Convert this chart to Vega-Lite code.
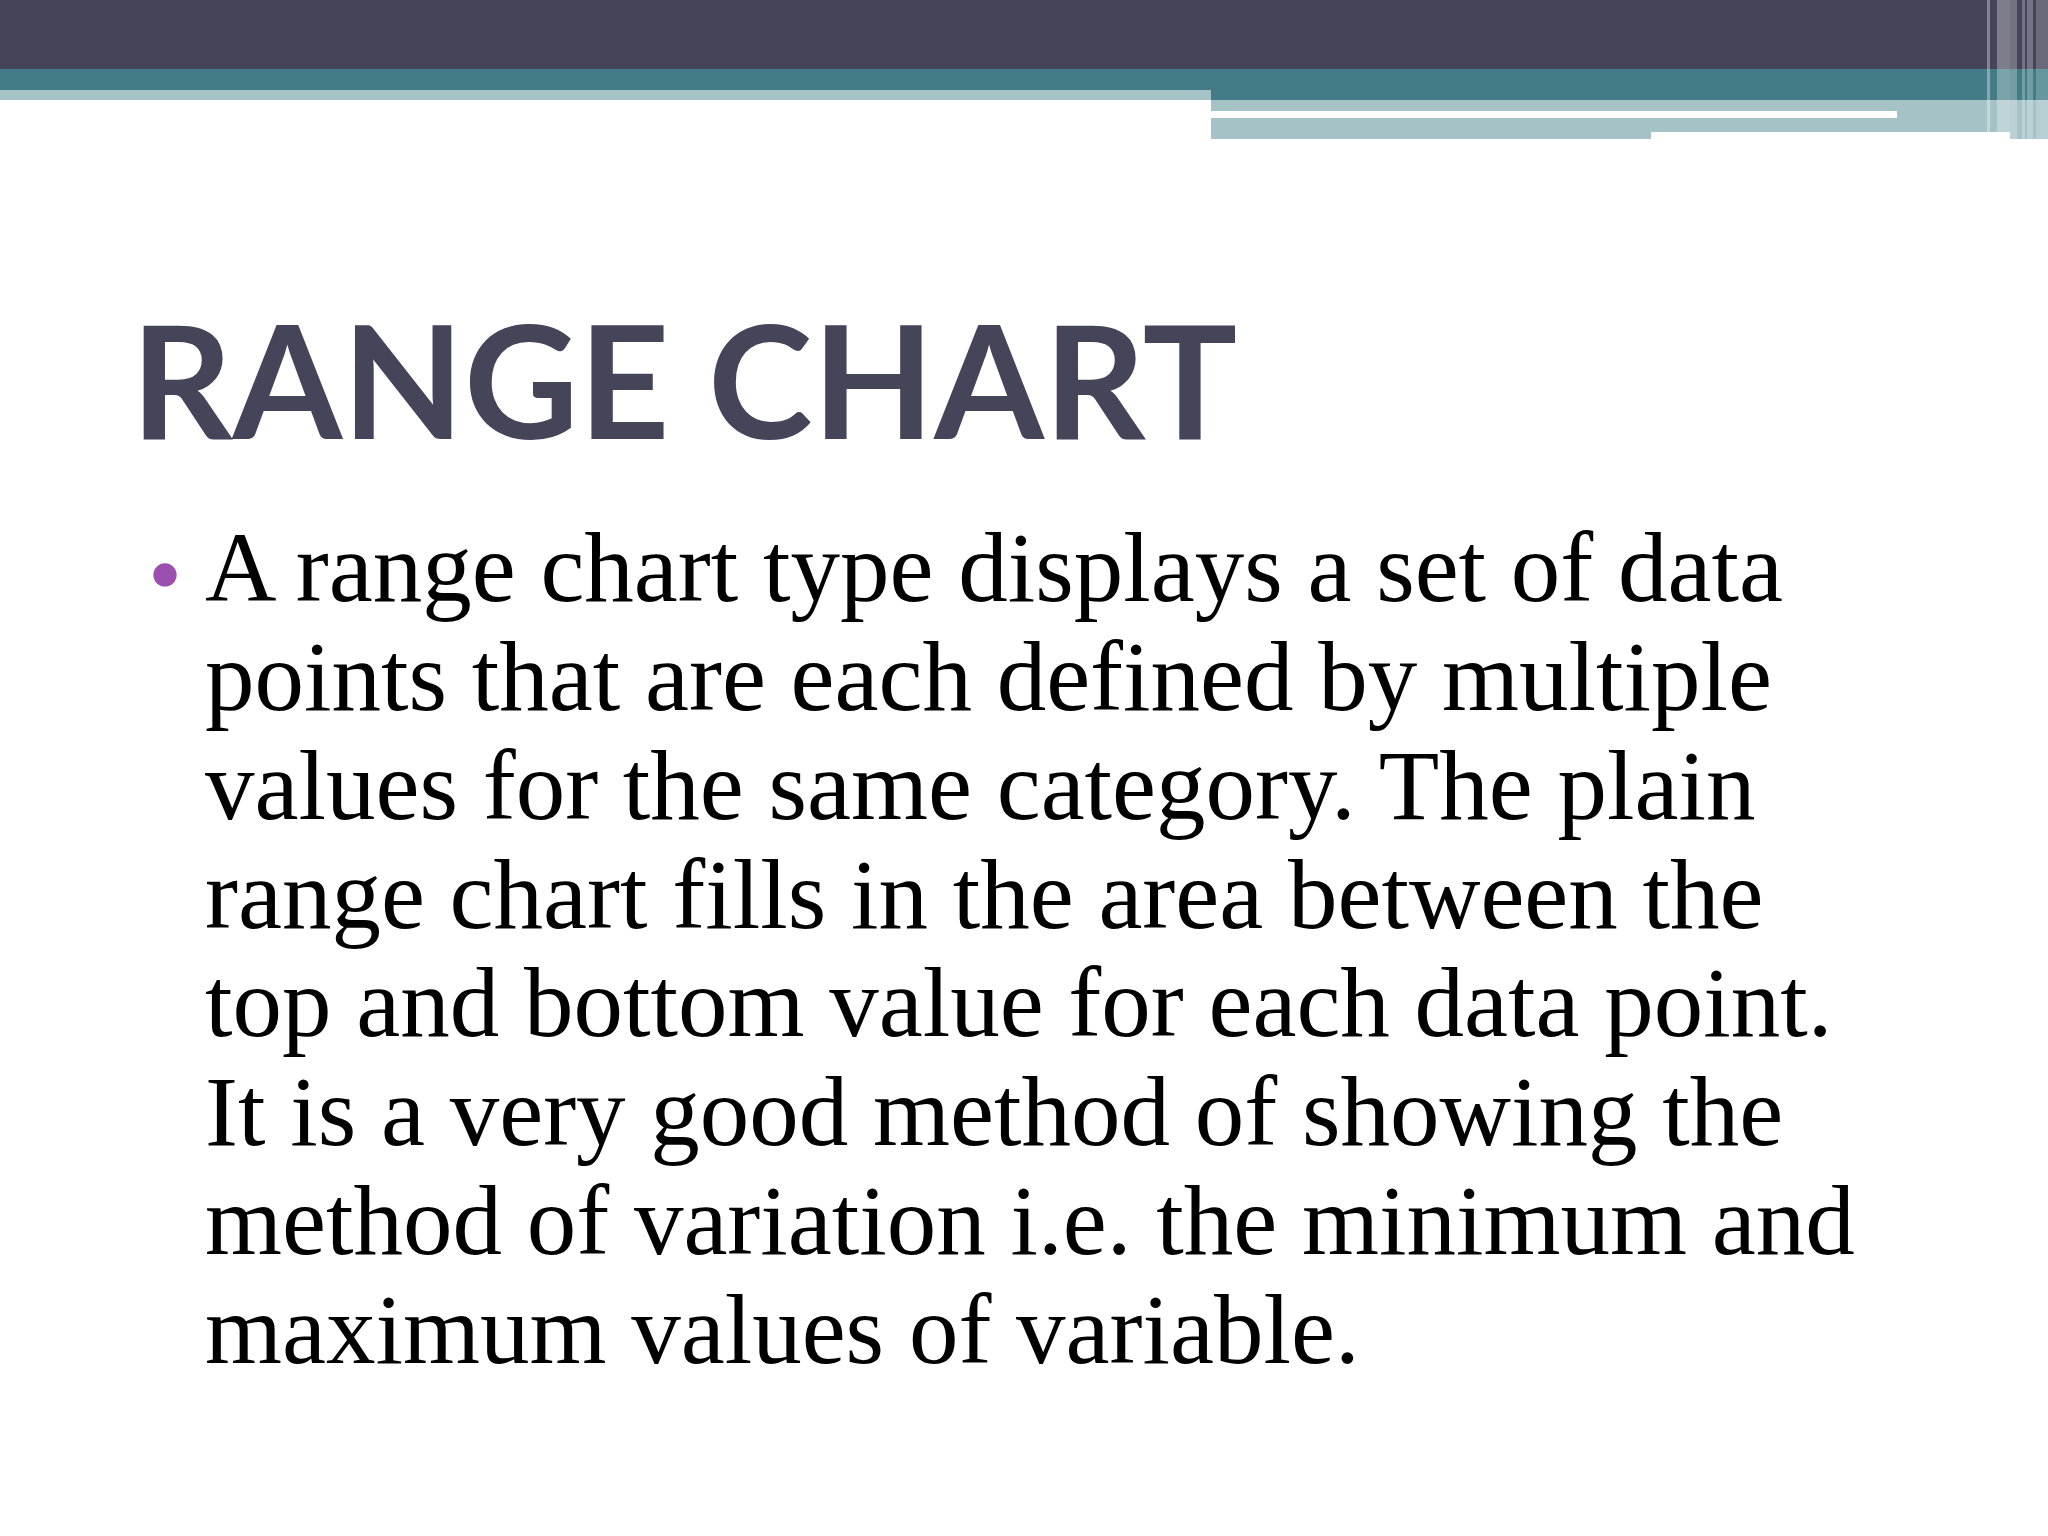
{
  "$schema": "https://vega.github.io/schema/vega-lite/v6.json",
  "width": 2048,
  "height": 1536,
  "autosize": {"type": "fit", "contains": "padding"},
  "padding": 0,
  "background": "white",
  "config": {
    "view": {"stroke": null},
    "axis": {"disable": true},
    "legend": {"disable": true}
  },
  "datasets": {
    "header": [
      {"part": "bar", "x0": 0, "x1": 2048, "y0": 0, "y1": 69},
      {"part": "accent", "x0": 0, "x1": 2048, "y0": 69, "y1": 90},
      {"part": "accent", "x0": 1211, "x1": 2048, "y0": 90, "y1": 100},
      {"part": "pale", "x0": 0, "x1": 1211, "y0": 90, "y1": 100},
      {"part": "pale", "x0": 1211, "x1": 2048, "y0": 100, "y1": 111},
      {"part": "pale", "x0": 1897, "x1": 2048, "y0": 111, "y1": 118},
      {"part": "pale", "x0": 1211, "x1": 2048, "y0": 118, "y1": 132},
      {"part": "pale", "x0": 1211, "x1": 1651, "y0": 132, "y1": 139},
      {"part": "pale", "x0": 2010, "x1": 2048, "y0": 132, "y1": 139}
    ],
    "stripes": [
      {"tone": "a", "x0": 1987, "x1": 1990, "y0": 0, "y1": 132},
      {"tone": "b", "x0": 1997, "x1": 2010, "y0": 0, "y1": 132},
      {"tone": "c", "x0": 2010, "x1": 2017, "y0": 0, "y1": 139},
      {"tone": "c", "x0": 2022, "x1": 2025, "y0": 0, "y1": 139},
      {"tone": "c", "x0": 2027, "x1": 2033, "y0": 0, "y1": 139},
      {"tone": "d", "x0": 2036, "x1": 2048, "y0": 0, "y1": 139}
    ],
    "title": [{"text": "RANGE CHART"}],
    "body": [
      {"line": 1, "text": "A range chart type displays a set of data"},
      {"line": 2, "text": "points that are each defined by multiple"},
      {"line": 3, "text": "values for the same category. The plain"},
      {"line": 4, "text": "range chart fills in the area between the"},
      {"line": 5, "text": "top and bottom value for each data point."},
      {"line": 6, "text": "It is a very good method of showing the"},
      {"line": 7, "text": "method of variation i.e. the minimum and"},
      {"line": 8, "text": "maximum values of variable."}
    ]
  },
  "resolve": {"scale": {"y": "independent", "color": "independent", "opacity": "independent"}},
  "layer": [
    {
      "data": {"name": "header"},
      "mark": {"type": "rect"},
      "encoding": {
        "x": {"field": "x0", "type": "quantitative", "scale": {"domain": [0, 2048], "nice": false, "zero": false}},
        "x2": {"field": "x1"},
        "y": {"field": "y0", "type": "quantitative", "scale": {"domain": [0, 1536], "nice": false, "reverse": true}},
        "y2": {"field": "y1"},
        "color": {
          "field": "part",
          "type": "nominal",
          "scale": {"domain": ["bar", "accent", "pale"], "range": ["#45455a", "#437c86", "#a5c2c7"]}
        }
      }
    },
    {
      "data": {"name": "stripes"},
      "mark": {"type": "rect", "color": "white"},
      "encoding": {
        "x": {"field": "x0", "type": "quantitative", "scale": {"domain": [0, 2048], "nice": false, "zero": false}},
        "x2": {"field": "x1"},
        "y": {"field": "y0", "type": "quantitative", "scale": {"domain": [0, 1536], "nice": false, "reverse": true}},
        "y2": {"field": "y1"},
        "opacity": {
          "field": "tone",
          "type": "nominal",
          "scale": {"domain": ["a", "b", "c", "d"], "range": [0.35, 0.2, 0.45, 0.6]}
        }
      }
    },
    {
      "data": {"name": "title"},
      "mark": {
        "type": "text",
        "font": "Lato",
        "fontWeight": "bold",
        "fontSize": 158,
        "align": "left",
        "baseline": "alphabetic",
        "color": "#45455a"
      },
      "encoding": {
        "x": {"datum": 131, "type": "quantitative", "scale": {"domain": [0, 2048], "nice": false, "zero": false}},
        "y": {"datum": 439, "type": "quantitative", "scale": {"domain": [0, 1536], "nice": false, "reverse": true}},
        "text": {"field": "text"}
      }
    },
    {
      "data": {"name": "body"},
      "mark": {
        "type": "text",
        "font": "Liberation Serif",
        "fontSize": 99,
        "align": "left",
        "baseline": "alphabetic",
        "color": "black"
      },
      "encoding": {
        "x": {"datum": 205, "type": "quantitative", "scale": {"domain": [0, 2048], "nice": false, "zero": false}},
        "y": {"field": "line", "type": "quantitative", "scale": {"domain": [-4.521, 9.589], "nice": false, "zero": false, "reverse": true}},
        "text": {"field": "text"}
      }
    },
    {
      "data": {"name": "body"},
      "transform": [{"filter": "datum.line == 1"}],
      "mark": {"type": "circle", "size": 540, "color": "#9b4fae", "opacity": 1},
      "encoding": {
        "x": {"datum": 165, "type": "quantitative", "scale": {"domain": [0, 2048], "nice": false, "zero": false}},
        "y": {"field": "line", "type": "quantitative", "scale": {"domain": [-4.282, 9.828], "nice": false, "zero": false, "reverse": true}}
      }
    }
  ]
}
